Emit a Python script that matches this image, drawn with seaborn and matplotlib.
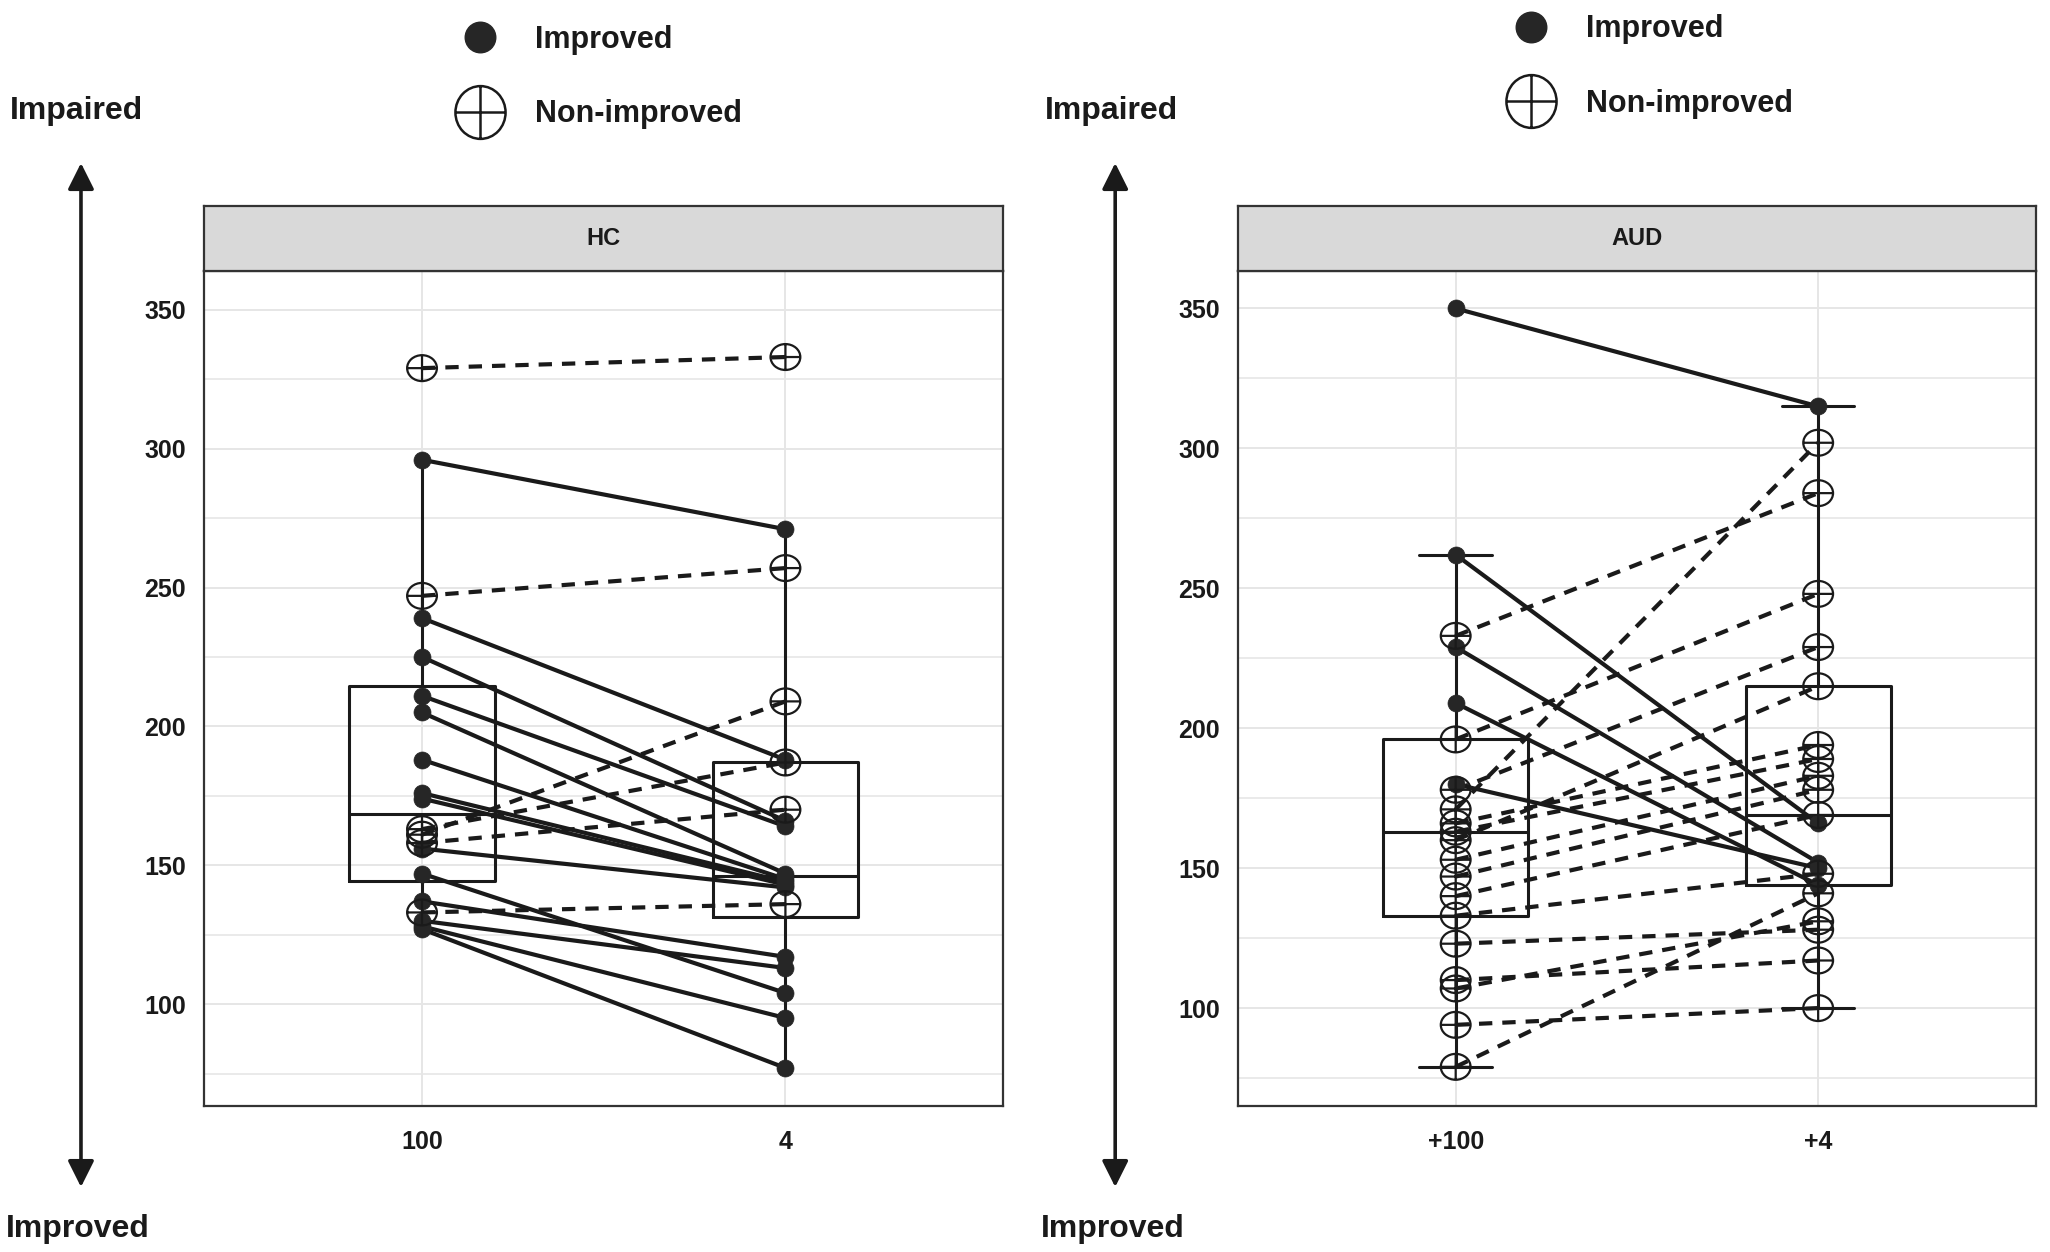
import matplotlib
matplotlib.use("Agg")
import pandas as pd
import matplotlib.pyplot as plt
import seaborn as sns
from matplotlib.path import Path
from matplotlib.transforms import Affine2D
from matplotlib.lines import Line2D
from matplotlib.patches import FancyArrowPatch
from matplotlib.ticker import MultipleLocator

# ---- data ----
hc_times = ['100', '4']
hc_status = ['Improved'] * 14 + ['Non-improved'] * 6
hc_before = [296, 239, 225, 211, 205, 188, 176, 174, 156, 147, 137, 130, 128, 127,
             329, 247, 161, 163, 158, 133]
hc_after = [271, 188, 166, 164, 147, 145, 144, 143, 142, 104, 117, 113, 95, 77,
            333, 257, 209, 187, 170, 136]

aud_times = ['+100', '+4']
aud_status = ['Improved'] * 5 + ['Non-improved'] * 16
aud_before = [350, 262, 229, 209, 180,
              233, 196, 178, 171, 166, 163, 160, 153, 147, 140, 133, 123, 110, 107, 94, 79]
aud_after = [315, 166, 152, 144, 150,
             284, 248, 229, 302, 194, 189, 215, 183, 178, 169, 148, 128, 117, 131, 100, 141]

y_ticks = [100, 150, 200, 250, 300, 350]

INK = '#1a1a1a'
DOT = '#262626'
GRID = '#e6e6e6'


def crossed_circle(sx=1.0):
    circle = Path.unit_circle().transformed(Affine2D().scale(sx, 1.0))
    cross = Path([[-sx, 0], [sx, 0], [0, -1], [0, 1]],
                 [Path.MOVETO, Path.LINETO, Path.MOVETO, Path.LINETO])
    return Path.make_compound_path(circle, cross)


CROSS = crossed_circle(1.15)      # data points look a little stretched
CROSS_KEY = crossed_circle(0.95)  # legend key is a little taller than wide


def long_table(times, before, after, status):
    n = len(before)
    return pd.DataFrame({
        'id': list(range(n)) * 2,
        'time': [times[0]] * n + [times[1]] * n,
        'pos': [0] * n + [1] * n,
        'value': list(before) + list(after),
        'status': list(status) * 2,
    })


def draw_panel(ax, sax, title, times, before, after, status, caps, ylim):
    df = long_table(times, before, after, status)

    sns.boxplot(data=df, x='time', y='value', order=times, ax=ax, width=0.4,
                fill=False, color=INK, linewidth=2.2, showfliers=False,
                showcaps=caps, whis=1.5)

    sns.lineplot(data=df, x='pos', y='value', units='id', estimator=None,
                 style='status', style_order=['Improved', 'Non-improved'],
                 dashes={'Improved': '', 'Non-improved': (3.2, 2.4)},
                 color=INK, linewidth=3.0, legend=False, sort=False, ax=ax)

    imp = df[df['status'] == 'Improved']
    non = df[df['status'] == 'Non-improved']
    sns.scatterplot(data=imp, x='pos', y='value', marker='o', s=150, color=DOT,
                    edgecolor=DOT, linewidth=0.5, legend=False, ax=ax, zorder=4)
    sns.scatterplot(data=non, x='pos', y='value', marker=CROSS, s=460,
                    facecolor='none', edgecolor=INK, linewidth=1.6,
                    legend=False, ax=ax, zorder=5)

    ax.set_xlim(-0.6, 1.6)
    ax.set_ylim(*ylim)
    ax.set_xticks([0, 1])
    ax.set_xticklabels(times)
    ax.set_yticks(y_ticks)
    ax.yaxis.set_minor_locator(MultipleLocator(25))
    ax.set_xlabel('')
    ax.set_ylabel('')
    ax.set_axisbelow(True)
    ax.grid(which='major', color=GRID, linewidth=1.4)
    ax.grid(which='minor', axis='y', color=GRID, linewidth=1.2)
    ax.tick_params(which='minor', length=0)
    ax.tick_params(which='major', length=5, width=1.2, color='#333333',
                   labelsize=18, pad=8)
    ax.tick_params(axis='x', pad=12)
    for lab in ax.get_xticklabels() + ax.get_yticklabels():
        lab.set_fontweight('bold')
        lab.set_color(INK)
    for sp in ax.spines.values():
        sp.set_visible(True)
        sp.set_color('#333333')
        sp.set_linewidth(1.6)

    # facet strip
    sax.set_facecolor('#d9d9d9')
    sax.set_xticks([])
    sax.set_yticks([])
    for sp in sax.spines.values():
        sp.set_visible(True)
        sp.set_color('#333333')
        sp.set_linewidth(1.6)
    sax.text(0.5, 0.5, title, ha='center', va='center', fontsize=17,
             fontweight='bold', color=INK, transform=sax.transAxes)


def main():
    sns.set_theme(style='whitegrid')
    plt.rcParams['font.family'] = ['Liberation Sans', 'DejaVu Sans']

    fig = plt.figure(figsize=(20.5, 12.52), dpi=100)
    ax1 = fig.add_axes([0.0995, 0.1166, 0.390, 0.667])
    ax2 = fig.add_axes([0.6040, 0.1166, 0.389, 0.667])
    s1 = fig.add_axes([0.0995, 0.7836, 0.390, 0.052])
    s2 = fig.add_axes([0.6040, 0.7836, 0.389, 0.052])

    draw_panel(ax1, s1, 'HC', hc_times, hc_before, hc_after, hc_status,
               caps=False, ylim=(63.3, 364))
    draw_panel(ax2, s2, 'AUD', aud_times, aud_before, aud_after, aud_status,
               caps=True, ylim=(65, 363.4))

    # Impaired / Improved direction arrows
    for x_arrow, x_text in [(0.0395, 0.005), (0.544, 0.5097)]:
        fig.add_artist(FancyArrowPatch(
            (x_arrow, 0.0519), (x_arrow, 0.8698), transform=fig.transFigure,
            arrowstyle='<|-|>,head_length=0.8,head_width=0.4', mutation_scale=20,
            lw=2.6, color=INK, shrinkA=0, shrinkB=0))
        fig.text(x_text, 0.911, 'Impaired', ha='left', va='center',
                 fontsize=23, fontweight='bold', color=INK)
        fig.text(x_text - 0.002, 0.018, 'Improved', ha='left', va='center',
                 fontsize=23, fontweight='bold', color=INK)

    handles = [
        Line2D([], [], marker='o', markersize=22, color=DOT, ls='none'),
        Line2D([], [], marker=CROSS_KEY, markersize=38, mfc='none', mec=INK,
               mew=1.8, ls='none'),
    ]
    labels = ['Improved', 'Non-improved']
    for anchor in [(0.2265, 0.980), (0.7395, 0.9885)]:
        fig.legend(handles, labels, loc='upper left', bbox_to_anchor=anchor,
                   frameon=False, prop={'weight': 'bold', 'size': 22},
                   handlelength=1.0, handletextpad=1.3, labelspacing=1.45,
                   borderpad=0, borderaxespad=0, labelcolor=INK)

    fig.savefig('out.png', dpi=100)
    plt.close(fig)


if __name__ == '__main__':
    main()
